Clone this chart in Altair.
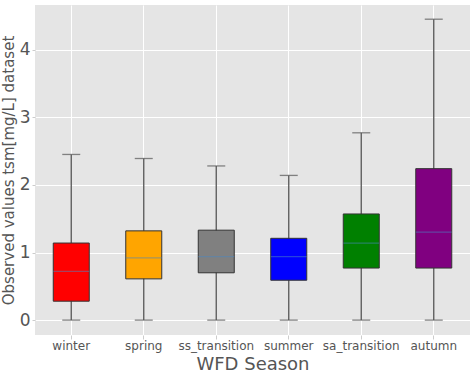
import altair as alt
import pandas as pd

seasons = ["winter", "spring", "ss_transition", "summer", "sa_transition", "autumn"]
whisker_low = [0.0, 0.0, 0.0, 0.0, 0.0, 0.0]
q1 = [0.28, 0.61, 0.70, 0.59, 0.77, 0.77]
median = [0.72, 0.92, 0.94, 0.94, 1.14, 1.30]
q3 = [1.14, 1.32, 1.33, 1.21, 1.57, 2.24]
whisker_high = [2.45, 2.39, 2.28, 2.14, 2.77, 4.45]
box_colors = ["red", "orange", "gray", "blue", "green", "purple"]

df = pd.DataFrame({
    "season": seasons,
    "lo": whisker_low,
    "q1": q1,
    "med": median,
    "q3": q3,
    "hi": whisker_high,
})

x_enc = alt.X(
    "season:N",
    sort=seasons,
    scale=alt.Scale(paddingInner=0, paddingOuter=0),
    axis=alt.Axis(
        title="WFD Season",
        labelAngle=0,
        labelFontSize=12,
        labelColor="#555555",
        titleFontSize=18,
        titleColor="#555555",
        titleFontWeight="normal",
        tickColor="#cccccc",
        tickSize=4,
        labelPadding=1,
        titlePadding=4,
        domain=False,
        grid=True,
        gridColor="white",
        gridWidth=1,
        bandPosition=0.5,
    ),
)
y_scale = alt.Scale(domain=[-0.22, 4.66], nice=False, zero=False)
y_axis = alt.Axis(
    title="Observed values tsm[mg/L] dataset",
    values=[0, 1, 2, 3, 4],
    format="d",
    labelFontSize=17,
    labelColor="#555555",
    titleFontSize=15,
    titleColor="#555555",
    titleFontWeight="normal",
    tickColor="#cccccc",
    tickSize=3,
    labelPadding=2,
    titlePadding=3,
    domain=False,
    grid=True,
    gridColor="white",
    gridWidth=1,
)

base = alt.Chart(df)

whisker = base.mark_rule(color="#555555", strokeWidth=1.3).encode(
    x=x_enc,
    y=alt.Y("lo:Q", scale=y_scale, axis=y_axis),
    y2="hi:Q",
)
cap_low = base.mark_tick(color="#555555", size=18, thickness=1.3).encode(
    x=alt.X("season:N", sort=seasons), y=alt.Y("lo:Q")
)
cap_high = base.mark_tick(color="#555555", size=18, thickness=1.3).encode(
    x=alt.X("season:N", sort=seasons), y=alt.Y("hi:Q")
)
box = base.mark_bar(size=36, stroke="#333333", strokeWidth=1).encode(
    x=alt.X("season:N", sort=seasons),
    y=alt.Y("q1:Q"),
    y2="q3:Q",
    color=alt.Color(
        "season:N",
        scale=alt.Scale(domain=seasons, range=box_colors),
        legend=None,
    ),
)
med_line = base.mark_tick(color="#4a86c0", opacity=0.5, size=36, thickness=1.3).encode(
    x=alt.X("season:N", sort=seasons), y=alt.Y("med:Q")
)

chart = (
    alt.layer(whisker, box, med_line, cap_low, cap_high)
    .properties(
        width=435,
        height=330,
        autosize=alt.AutoSizeParams(type="none"),
        padding={"left": 35, "top": 5, "right": 4, "bottom": 41},
        background="white",
    )
    .configure_view(fill="#e5e5e5", stroke=None)
    .configure_axis(labelFont="DejaVu Sans", titleFont="DejaVu Sans")
)

chart.save("out.html", embed_options={"renderer": "svg", "actions": False})
